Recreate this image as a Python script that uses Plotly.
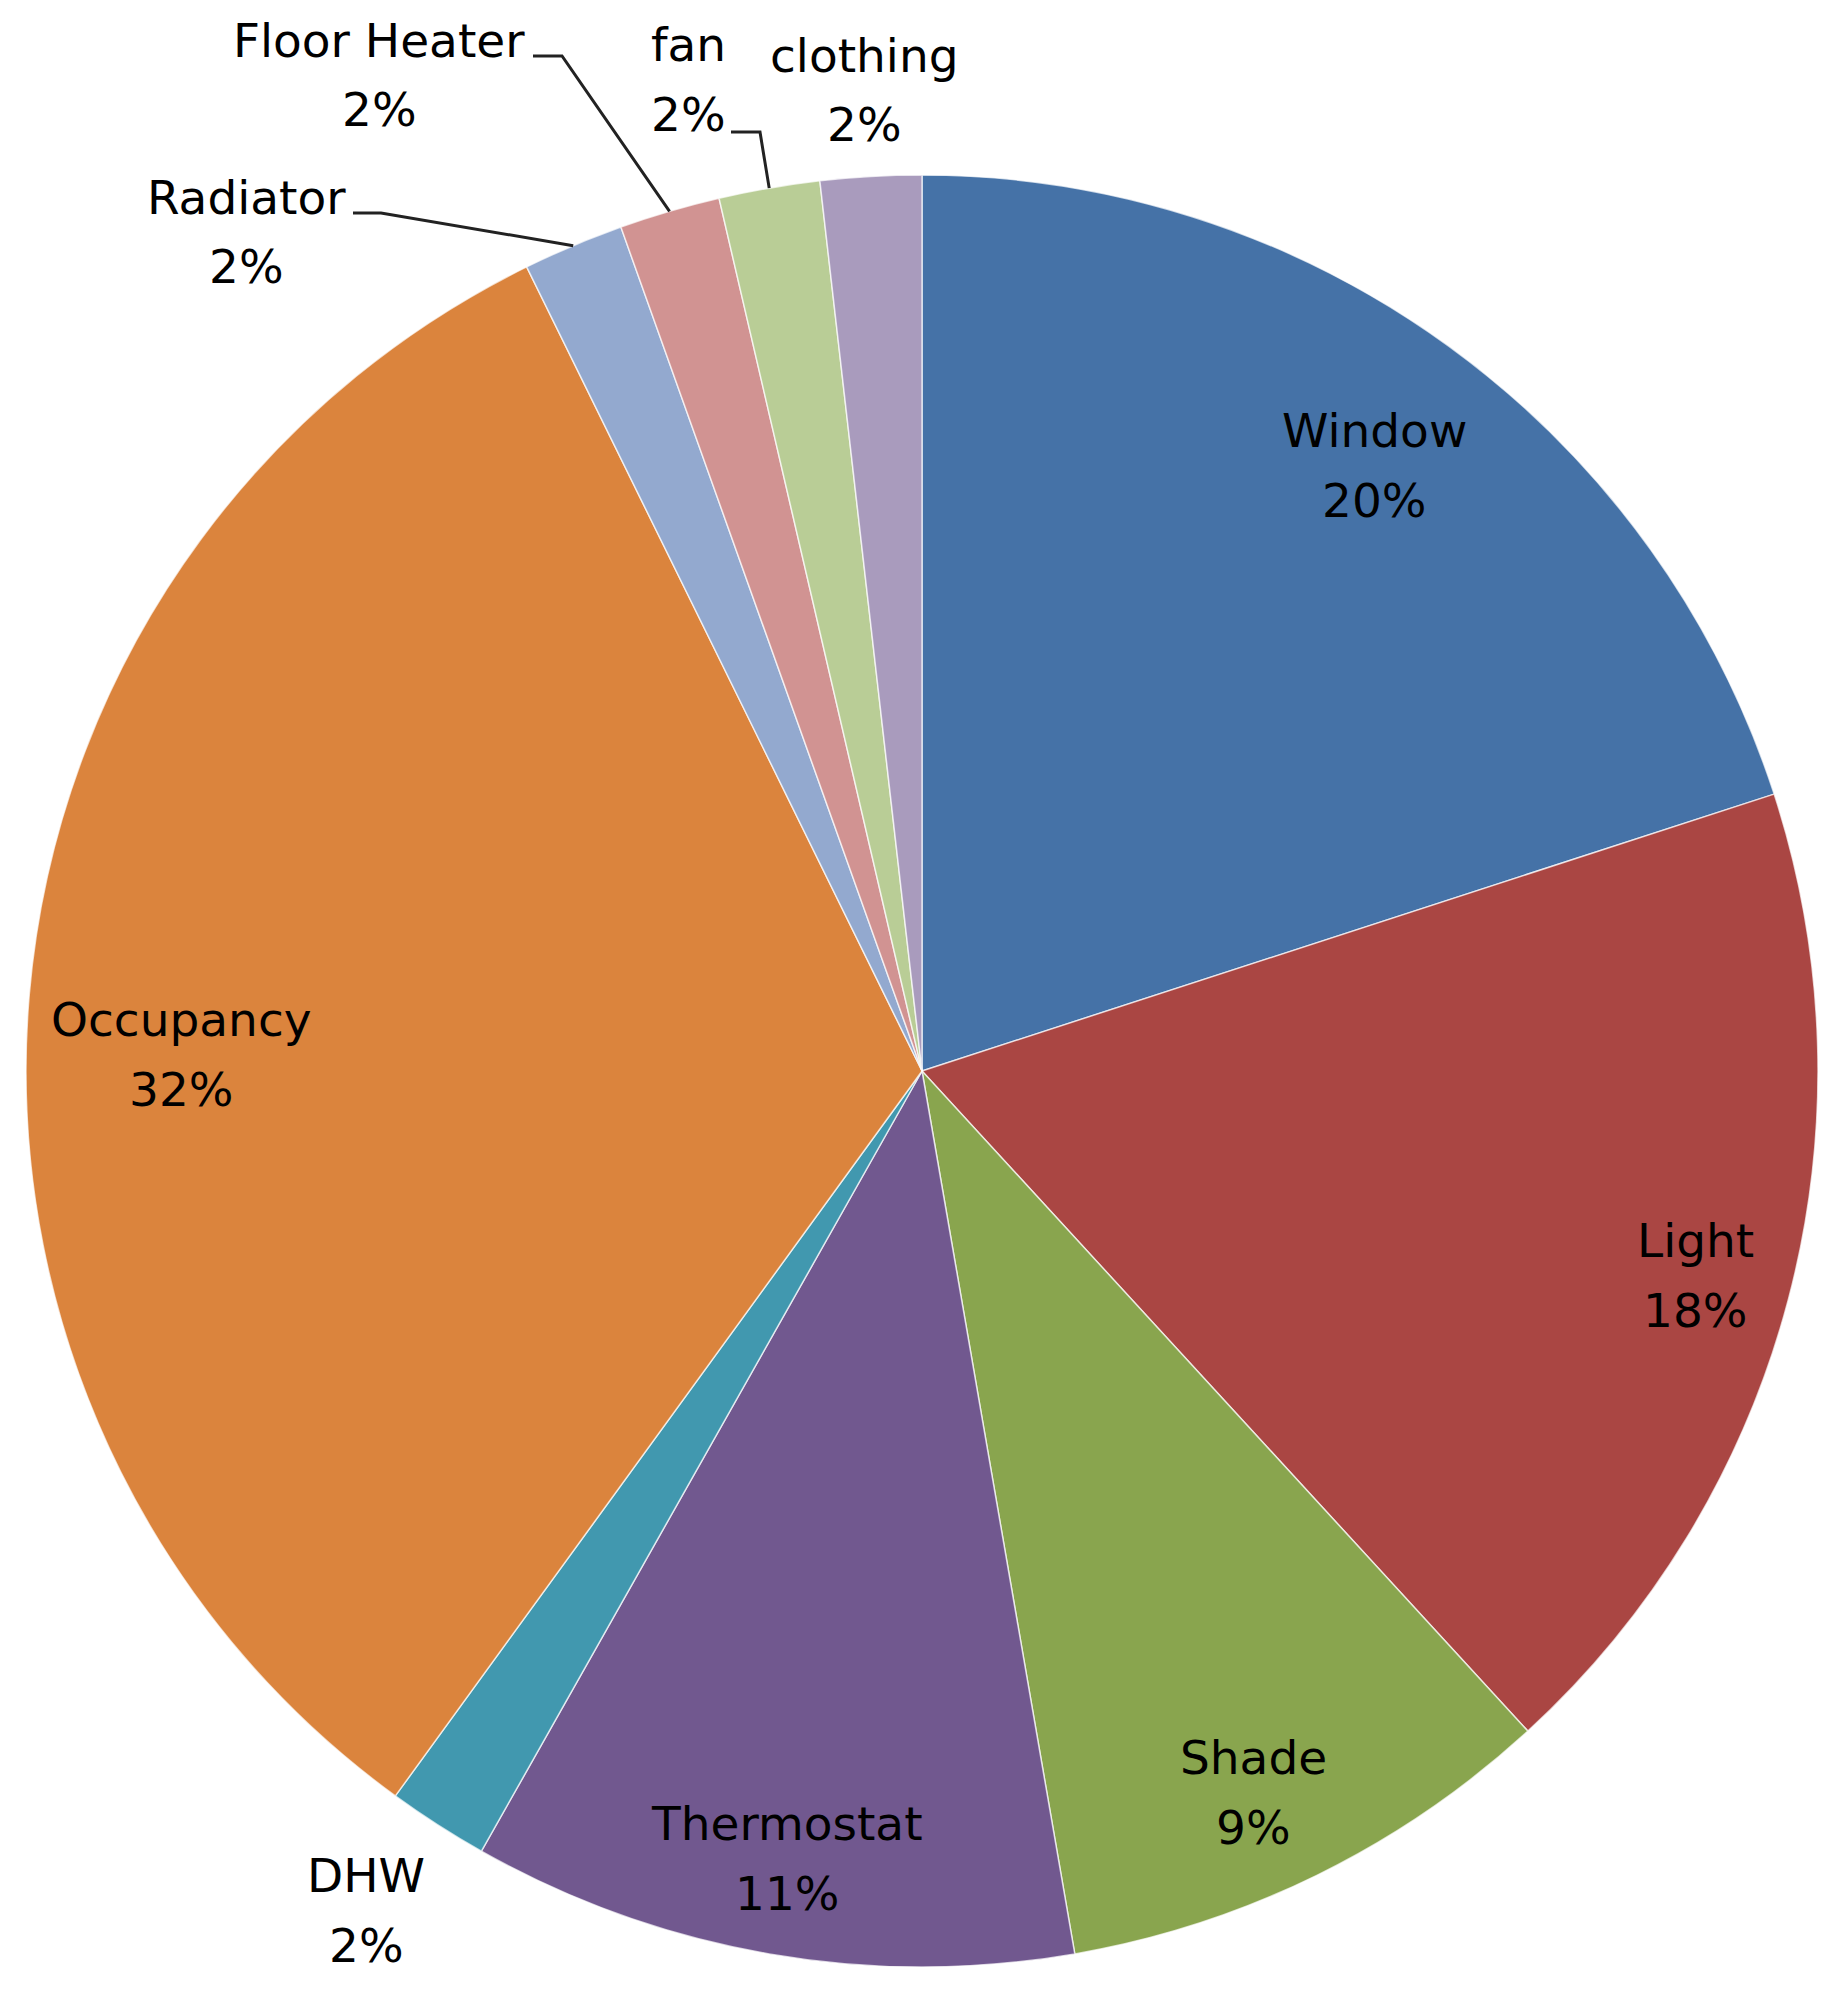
import numpy as np
import plotly.graph_objects as go

categories = ['Window', 'Light', 'Shade', 'Thermostat', 'DHW', 'Occupancy',
              'Radiator', 'Floor Heater', 'fan', 'clothing']
values = [11, 10, 5, 6, 1, 18, 1, 1, 1, 1]
pct_labels = ['20%', '18%', '9%', '11%', '2%', '32%', '2%', '2%', '2%', '2%']

colors = ['#4572A7', '#AA4643', '#89A54E', '#71588F', '#4198AF',
          '#DB843D', '#93A9CF', '#D19392', '#B9CD96', '#A99BBD']

W, H = 1834, 1991
OFF = 8                      # page body margin
cx, cy, R = 922 - OFF, 1071 - OFF, 896   # pie centre / radius in pixels

# label centres in pixels (layout only)
label_pos = {
    'Window': (1374, 462), 'Light': (1695, 1272), 'Shade': (1253, 1789),
    'Thermostat': (787, 1855), 'DHW': (366, 1907), 'Occupancy': (181, 1051),
    'Radiator': (246, 229), 'Floor Heater': (379, 72), 'fan': (688, 77),
    'clothing': (864, 87),
}
# leader line start / elbow in pixels, end is computed from the slice
leaders = {
    'Radiator': [(353, 213), (381, 213)],
    'Floor Heater': [(533, 56), (562, 56)],
    'fan': [(731, 132), (760, 132)],
}

def px(x, y, off=OFF):
    return (x - off) / W, 1 - (y - off) / H

fig = go.Figure()

fig.add_trace(go.Pie(labels=categories, values=values, sort=False,
                     direction='clockwise', rotation=0,
                     marker=dict(colors=colors, line=dict(color='rgba(255,255,255,0.7)', width=1.5)),
                     textinfo='none', hoverinfo='label+percent', showlegend=False,
                     domain=dict(x=[(cx - R) / W, (cx + R) / W],
                                 y=[1 - (cy + R) / H, 1 - (cy - R) / H])))

font = dict(family='DejaVu Sans', size=47, color='black')
annotations = []
for name, pct in zip(categories, pct_labels):
    lx, ly = label_pos[name]
    for txt, dy in [(name, -35), (pct, 35)]:
        x, y = px(lx, ly + dy + 3)
        annotations.append(dict(x=x, y=y, xref='paper', yref='paper', text=txt,
                                showarrow=False, font=font,
                                xanchor='center', yanchor='middle'))

# leader lines to the middle of the slice arc
total = sum(values)
cum = np.cumsum(values) / total
mids = (cum - np.array(values) / total / 2) * 2 * np.pi
shapes = []
for name, pts in leaders.items():
    a = mids[categories.index(name)]
    ex, ey = cx + R * np.sin(a), cy - R * np.cos(a)
    p = [px(*pt) for pt in pts] + [px(ex, ey, 0)]
    path = 'M ' + ' L '.join(f'{x},{y}' for x, y in p)
    shapes.append(dict(type='path', path=path, xref='paper', yref='paper',
                       line=dict(color='#222222', width=3)))

fig.update_layout(
    width=W, height=H,
    margin=dict(l=0, r=0, t=0, b=0),
    plot_bgcolor='white', paper_bgcolor='white',
    annotations=annotations, shapes=shapes,
)

fig.write_html('out.html')
